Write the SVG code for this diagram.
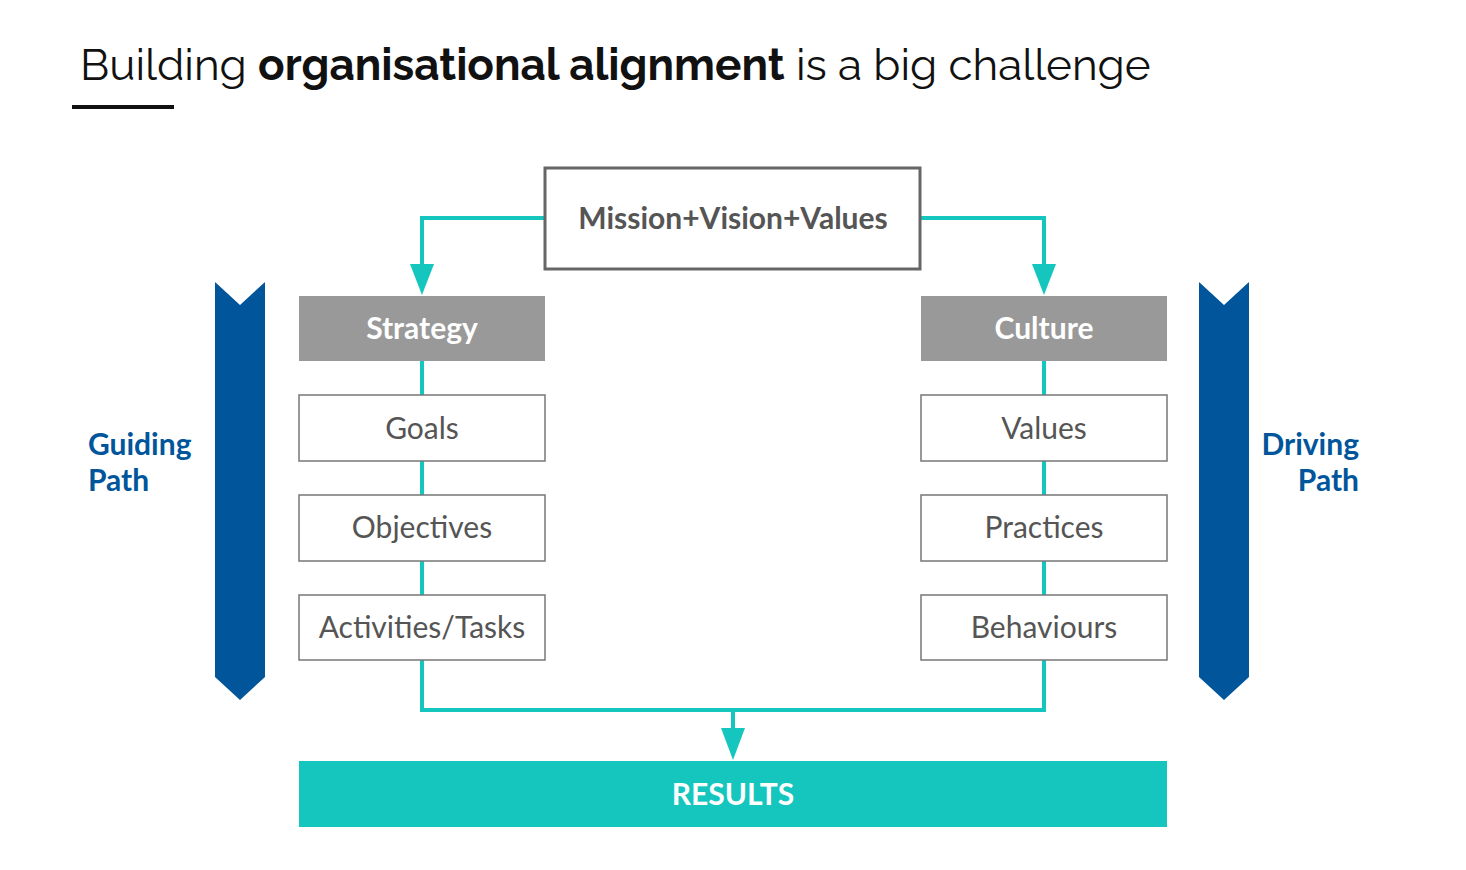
<svg xmlns="http://www.w3.org/2000/svg" width="1466" height="870" viewBox="0 0 1466 870">
<style>
.box{fill:#fff;stroke:#777;stroke-width:1.5}
.hdr{fill:#999}
.t{font-family:Lato,"Open Sans",sans-serif;font-size:30px;fill:#555;text-anchor:middle}
.h{font-family:Lato,"Open Sans",sans-serif;font-size:30px;font-weight:bold;fill:#fff;text-anchor:middle}
.side{font-family:Lato,"Open Sans",sans-serif;font-size:30px;font-weight:bold;fill:#00559B}
.c{fill:none;stroke:#14C6BE;stroke-width:4}
.ah{fill:#14C6BE}
</style>
<rect width="1466" height="870" fill="#fff"/>
<text x="80" y="80" font-family="Raleway,Lato,'Open Sans',sans-serif" font-size="44" fill="#111">Building <tspan font-weight="bold">organisational alignment</tspan> is a big challenge</text>
<rect x="72" y="105" width="102" height="4" fill="#111"/>
<g id="connectors">
<polyline class="c" points="545,218 422,218 422,270"/>
<polyline class="c" points="920,218 1044,218 1044,270"/>
<line class="c" x1="422" y1="360" x2="422" y2="595"/>
<line class="c" x1="1044" y1="360" x2="1044" y2="595"/>
<polyline class="c" points="422,660 422,710 1044,710 1044,660"/>
<line class="c" x1="733" y1="710" x2="733" y2="735"/>
<polygon class="ah" points="410,264 434,264 422,295"/>
<polygon class="ah" points="1032,264 1056,264 1044,295"/>
<polygon class="ah" points="721,728 745,728 733,760"/>
</g>
<g id="mission"><rect x="545" y="168" width="375" height="101" fill="#fff" stroke="#666" stroke-width="3"/><text class="t" x="733" y="229" font-weight="bold" font-size="29">Mission+Vision+Values</text></g>
<g id="strategy"><rect class="hdr" x="299" y="296" width="246" height="65"/><text class="h" x="422" y="339">Strategy</text></g>
<g id="culture"><rect class="hdr" x="921" y="296" width="246" height="65"/><text class="h" x="1044" y="339">Culture</text></g>
<g id="goals"><rect class="box" x="299" y="395" width="246" height="66"/><text class="t" x="422" y="439">Goals</text></g>
<g id="objectives"><rect class="box" x="299" y="495" width="246" height="66"/><text class="t" x="422" y="538">Objectives</text></g>
<g id="activities"><rect class="box" x="299" y="595" width="246" height="65"/><text class="t" x="422" y="638">Activities/Tasks</text></g>
<g id="values"><rect class="box" x="921" y="395" width="246" height="66"/><text class="t" x="1044" y="439">Values</text></g>
<g id="practices"><rect class="box" x="921" y="495" width="246" height="66"/><text class="t" x="1044" y="538">Practices</text></g>
<g id="behaviours"><rect class="box" x="921" y="595" width="246" height="65"/><text class="t" x="1044" y="638">Behaviours</text></g>
<g id="results"><rect x="299" y="761" width="868" height="66" fill="#14C6BE"/><text class="h" x="733" y="805">RESULTS</text></g>
<g id="guiding"><polygon fill="#00559B" points="215,282 240,305 265,282 265,677 240,700 215,677"/><text class="side" x="88" y="455">Guiding</text><text class="side" x="88" y="491">Path</text></g>
<g id="driving"><polygon fill="#00559B" points="1199,282 1224,305 1249,282 1249,677 1224,700 1199,677"/><text class="side" x="1359" y="455" text-anchor="end">Driving</text><text class="side" x="1359" y="491" text-anchor="end">Path</text></g>
</svg>
